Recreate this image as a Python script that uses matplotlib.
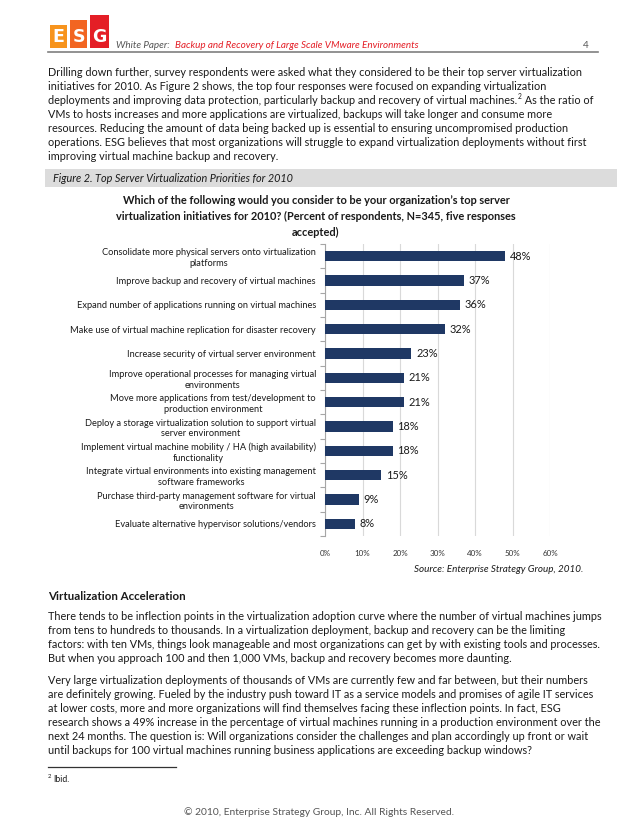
import numpy as np
import matplotlib
matplotlib.use('Agg')
import matplotlib.pyplot as plt
from matplotlib.patches import Rectangle
from matplotlib.lines import Line2D
from matplotlib.ticker import PercentFormatter

W, H = 638, 826

# chart data
categories = [
    'Consolidate more physical servers onto virtualization\nplatforms',
    'Improve backup and recovery of virtual machines',
    'Expand number of applications running on virtual machines',
    'Make use of virtual machine replication for disaster recovery',
    'Increase security of virtual server environment',
    'Improve operational processes for managing virtual\nenvironments',
    'Move more applications from test/development to\nproduction environment',
    'Deploy a storage virtualization solution to support virtual\nserver environment',
    'Implement virtual machine mobility / HA (high availability)\nfunctionality',
    'Integrate virtual environments into existing management\nsoftware frameworks',
    'Purchase third-party management software for virtual\nenvironments',
    'Evaluate alternative hypervisor solutions/vendors',
]
values = [48, 37, 36, 32, 23, 21, 21, 18, 18, 15, 9, 8]
x_ticks = [0, 10, 20, 30, 40, 50, 60]

chart_title = [
    'Which of the following would you consider to be your organization\u2019s top server',
    'virtualization initiatives for 2010? (Percent of respondents, N=345, five responses',
    'accepted)',
]

# "^2" marks where the footnote reference sits
para1 = [
    'Drilling down further, survey respondents were asked what they considered to be their top server virtualization',
    'initiatives for 2010. As Figure 2 shows, the top four responses were focused on expanding virtualization',
    'deployments and improving data protection, particularly backup and recovery of virtual machines.^2 As the ratio of',
    'VMs to hosts increases and more applications are virtualized, backups will take longer and consume more',
    'resources. Reducing the amount of data being backed up is essential to ensuring uncompromised production',
    'operations. ESG believes that most organizations will struggle to expand virtualization deployments without first',
    'improving virtual machine backup and recovery.',
]
para2 = [
    'There tends to be inflection points in the virtualization adoption curve where the number of virtual machines jumps',
    'from tens to hundreds to thousands. In a virtualization deployment, backup and recovery can be the limiting',
    'factors: with ten VMs, things look manageable and most organizations can get by with existing tools and processes.',
    'But when you approach 100 and then 1,000 VMs, backup and recovery becomes more daunting.',
]
para3 = [
    'Very large virtualization deployments of thousands of VMs are currently few and far between, but their numbers',
    'are definitely growing. Fueled by the industry push toward IT as a service models and promises of agile IT services',
    'at lower costs, more and more organizations will find themselves facing these inflection points. In fact, ESG',
    'research shows a 49% increase in the percentage of virtual machines running in a production environment over the',
    'next 24 months. The question is: Will organizations consider the challenges and plan accordingly up front or wait',
    'until backups for 100 virtual machines running business applications are exceeding backup windows?',
]

plt.rcParams['font.family'] = ['Lato', 'DejaVu Sans']

fig = plt.figure(figsize=(W / 100, H / 100), dpi=100)
fig.patch.set_facecolor('white')
renderer = fig.canvas.get_renderer()

BODY = 7.8
TXT = '#1a1a1a'


def put(x, y, s, **kw):
    kw.setdefault('va', 'center')
    kw.setdefault('fontsize', BODY)
    kw.setdefault('color', TXT)
    return fig.text(x / W, 1 - y / H, s, **kw)


def body_line(x, y, s):
    # plain line, or line with a small superscript footnote number
    if '^' not in s:
        put(x, y, s)
        return
    pre, rest = s.split('^', 1)
    sup, post = rest[0], rest[1:]
    t = put(x, y, pre)
    x_end = t.get_window_extent(renderer).x1 * W / fig.bbox.width
    t2 = put(x_end + 0.5, y - 3.5, sup, fontsize=4.8)
    x_end = t2.get_window_extent(renderer).x1 * W / fig.bbox.width
    put(x_end, y, post)


def rect(x0, y0, x1, y1, color):
    fig.add_artist(Rectangle((x0 / W, 1 - y1 / H), (x1 - x0) / W, (y1 - y0) / H,
                             transform=fig.transFigure, color=color, lw=0))


def hline(x0, x1, y, color, lw):
    fig.add_artist(Line2D([x0 / W, x1 / W], [1 - y / H, 1 - y / H],
                          transform=fig.transFigure, color=color, lw=lw))


# header / logo
rect(50, 25, 67, 48, '#F7941D')
rect(70, 20, 87, 48, '#F26522')
rect(90, 15, 109, 48, '#E41E26')
for lx, letter in [(58.5, 'E'), (78.5, 'S'), (99.5, 'G')]:
    put(lx, 37, letter, ha='center', color='white', fontweight='bold', fontsize=12.5,
        family=['DejaVu Sans'])
put(116, 45, 'White Paper: ', style='italic', color='#555555', fontsize=7.1)
put(175, 45, 'Backup and Recovery of Large Scale VMware Environments', style='italic',
    color='#E41E26', fontsize=7.1)
put(583, 45, '4', color='#555555', fontsize=7.2)
hline(48, 598, 52, '#7f7f7f', 1.2)

# first paragraph
for i, line in enumerate(para1):
    body_line(48, 72 + 14 * i, line)

# figure caption band
rect(45, 169, 617, 187, '#DCDCDC')
put(53, 178, 'Figure 2. Top Server Virtualization Priorities for 2010', style='italic')

for i, line in enumerate(chart_title):
    put(316, 201 + 15.5 * i, line, ha='center', fontweight='bold', fontsize=7.9)

# chart
n = len(categories)
ax = fig.add_axes([325 / W, 1 - 536 / H, 225 / W, 292 / H])
pos = np.arange(n)
ax.barh(pos, values, height=0.42, color='#1F3864', zorder=3)
ax.set_ylim(n - 0.5, -0.5)
ax.set_xlim(0, 60)
ax.set_xticks(x_ticks)
ax.xaxis.set_major_formatter(PercentFormatter(decimals=0))
ax.tick_params(axis='x', length=0, pad=10, labelsize=5.8, labelcolor='#333333')
ax.set_yticks(pos, categories)
ax.tick_params(axis='y', which='major', length=0, pad=6.5, labelsize=6.7, labelcolor=TXT)
for lbl in ax.get_yticklabels():
    lbl.set_multialignment('center')
    lbl.set_linespacing(1.25)
ax.set_yticks(np.arange(-0.5, n), minor=True)
ax.tick_params(axis='y', which='minor', length=3.5, color='#a6a6a6', width=0.8)
ax.grid(axis='x', color='#d9d9d9', lw=0.8)
ax.set_axisbelow(True)
for s in ['top', 'right', 'bottom']:
    ax.spines[s].set_visible(False)
ax.spines['left'].set_color('#a6a6a6')
ax.spines['left'].set_linewidth(0.8)
for i, v in enumerate(values):
    ax.text(v + 1.3, i, f'{v}%', va='center', fontsize=7.9, color=TXT)

put(583, 569, 'Source: Enterprise Strategy Group, 2010.', ha='right', style='italic', fontsize=7.1)

# second section
put(48, 596, 'Virtualization Acceleration', fontweight='bold', fontsize=8.3)
for i, line in enumerate(para2):
    body_line(48, 616 + 14 * i, line)
for i, line in enumerate(para3):
    body_line(48, 680 + 14 * i, line)

# footnote
hline(48, 176, 767, '#333333', 0.9)
put(48, 777, '2', fontsize=4.2)
put(53, 780, 'Ibid.', fontsize=6.2)

put(319, 812, '\u00a9 2010, Enterprise Strategy Group, Inc. All Rights Reserved.', ha='center',
    color='#555555', fontsize=7.4)

fig.savefig('out.png', dpi=100)
